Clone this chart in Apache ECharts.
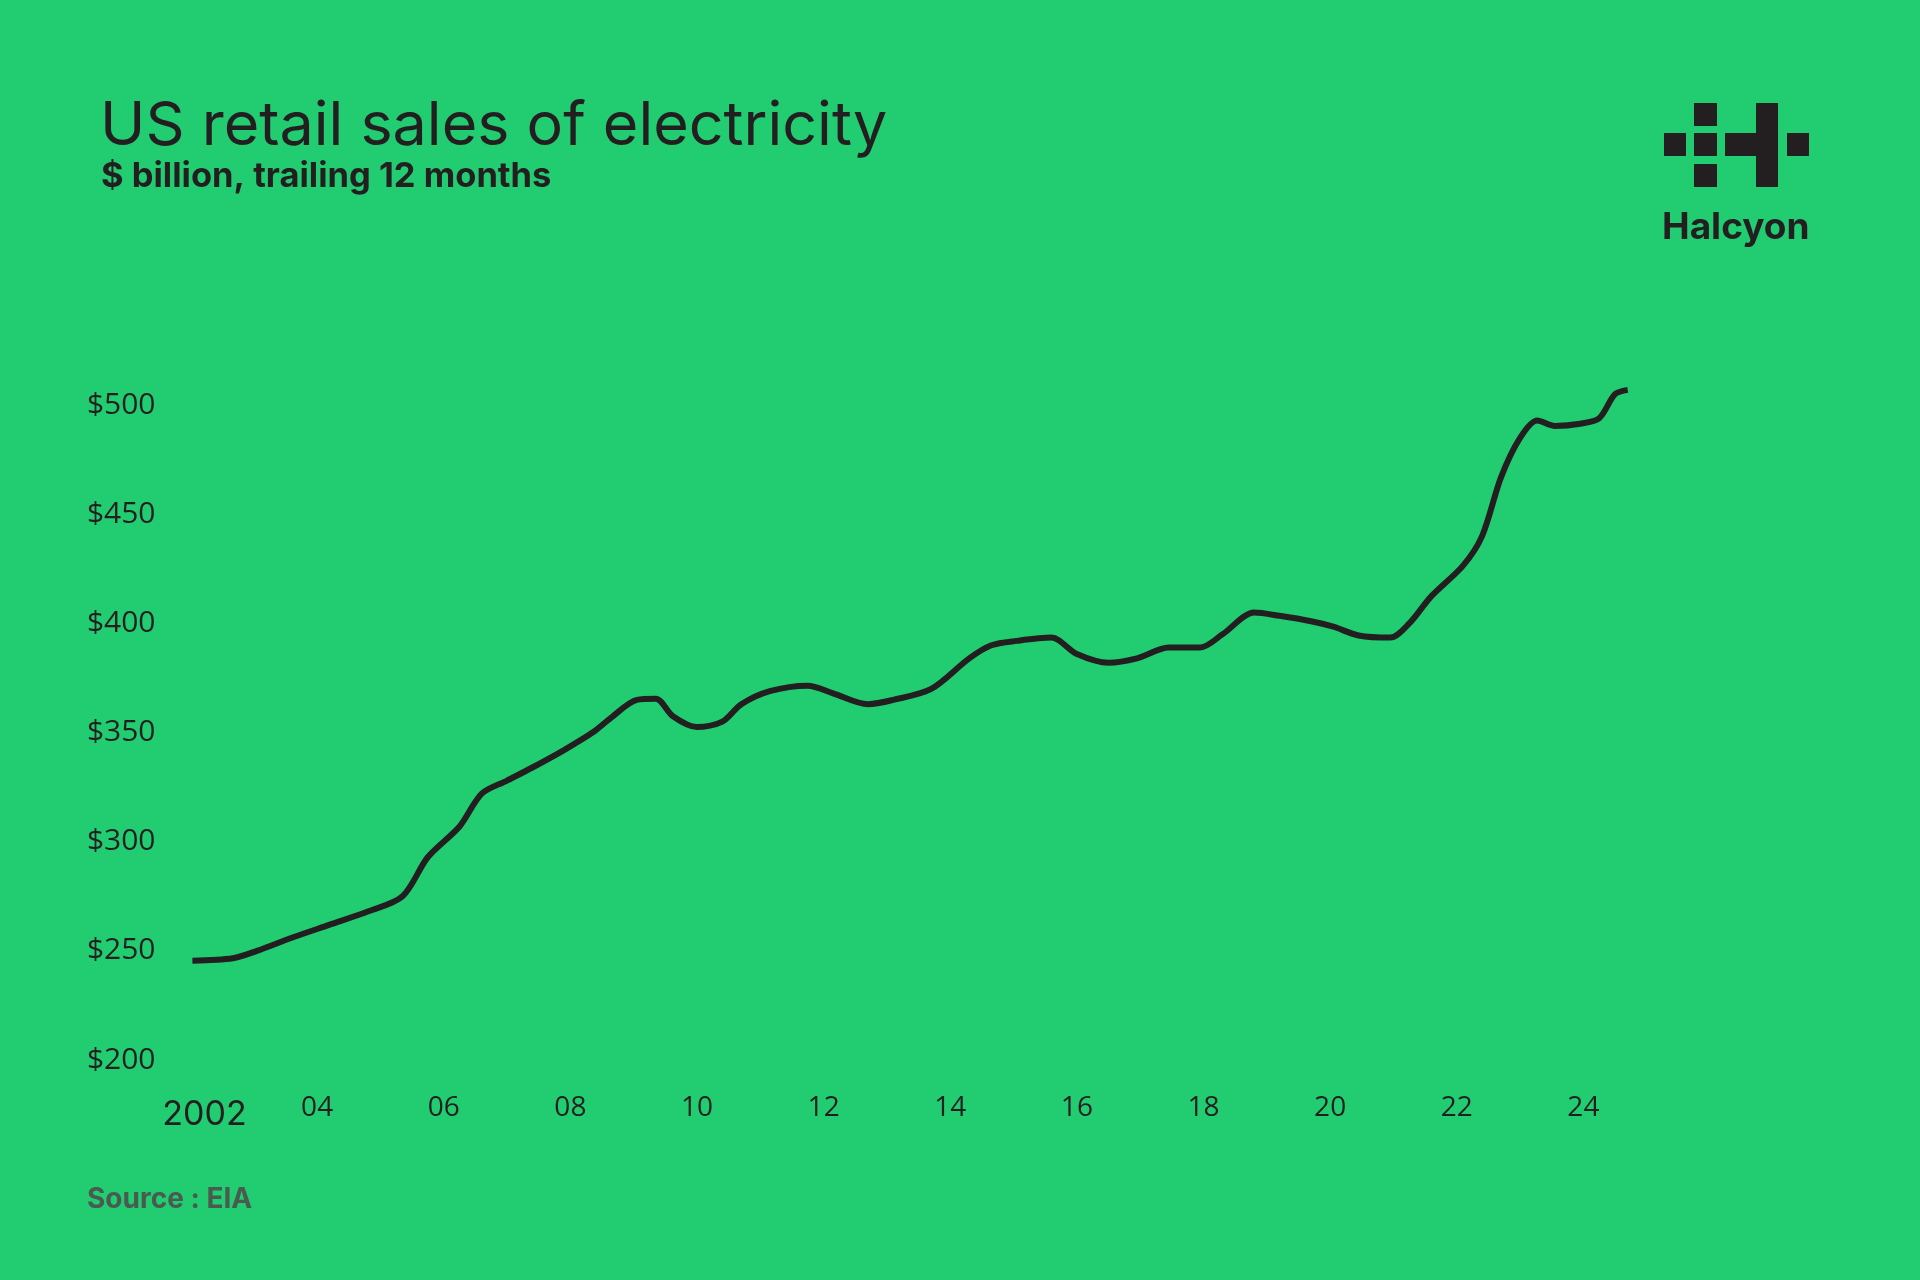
<!DOCTYPE html>
<html>
<head>
<meta charset="utf-8">
<script src="https://cdn.jsdelivr.net/npm/echarts@6/dist/echarts.min.js"></script>
<style>html,body{margin:0;padding:0;background:#22cd72;}#chartmain{width:1920px;height:1280px;}</style>
</head>
<body>
<div id="chartmain"></div>
<script>
// year (decimal) and $ billion, trailing 12 months
var years = [2002.03,2002.67,2003.05,2003.6,2004.2,2004.8,2005.35,2005.75,2006.25,2006.6,2007.0,2007.4,2007.9,2008.35,2008.65,2009.05,2009.35,2009.62,2010.0,2010.4,2010.7,2011.15,2011.75,2012.15,2012.7,2013.1,2013.7,2014.3,2014.65,2015.05,2015.6,2016.0,2016.5,2016.95,2017.45,2017.95,2018.3,2018.8,2019.2,2019.7,2020.05,2020.45,2020.95,2021.25,2021.6,2022.1,2022.4,2022.7,2023.0,2023.27,2023.55,2023.95,2024.25,2024.5,2024.7];
var sales = [245.5,246.6,250,256,262,268,275,293,307,322,328,334,342,350,357,365,365.5,357.5,352.5,355,363,369,371.5,368,363,365,370,384,390,392,393.5,386,382,384,389,389,395,405,403.5,401,398.5,394.5,393.5,400,412.5,426.5,440,467,485,493,490.5,491.5,494,505,507];
var yTicks = [200,250,300,350,400,450,500];

var myChart = echarts.init(document.getElementById('chartmain'));
var ink = '#231f20';
var logo = [
  [1694,103,23,23],[1664,133,22,23],[1694,133,23,23],[1694,164,23,23],
  [1725,133,33,23],[1756,103,22,84],[1787,133,22,23]
].map(function(r){ return {type:'rect', shape:{x:r[0],y:r[1],width:r[2],height:r[3]}, style:{fill:ink}}; });

option = {
    backgroundColor: '#22cd72',
    graphic: logo.concat([
        {type:'text', left:1662, top:209, style:{text:'Halcyon', font:'bold 37px Inter, "Noto Sans", sans-serif', fill:ink}},
        {type:'text', left:100, top:96, style:{text:'US retail sales of electricity', font:'61px Inter, "Noto Sans", sans-serif', fill:ink}},
        {type:'text', left:101, top:159, style:{text:'$ billion, trailing 12 months', font:'bold 34.5px Inter, "Noto Sans", sans-serif', fill:ink}},
        {type:'text', left:87, top:1186, style:{text:'Source : EIA', font:'bold 28px Inter, "Noto Sans", sans-serif', fill:'#4a5a50'}}
    ]),
    grid: {left:190.5, right:210, top:296, bottom:220},
    xAxis: {
        type:'value', min:2002, max:2026, interval:2,
        axisLine:{show:false}, axisTick:{show:false}, splitLine:{show:false},
        axisLabel:{
            margin:34, color:ink, fontFamily:'"Open Sans", sans-serif',
            formatter:function(v){ if(v===2002) return '{big|2002}'; if(v>2024) return ''; return String(v).slice(2); },
            fontSize:28,
            rich:{big:{fontSize:34, color:ink, fontFamily:'Inter, "Noto Sans", sans-serif', padding:[4,0,0,28]}}
        }
    },
    yAxis: {
        type:'value', min:200, max:550, interval:50,
        axisLine:{show:false}, axisTick:{show:false}, splitLine:{show:false},
        axisLabel:{
            margin:35, color:ink, fontSize:30, fontFamily:'"Open Sans", sans-serif',
            formatter:function(v){ return yTicks.indexOf(v) >= 0 ? '$' + v : ''; }
        }
    },
    series: [{
        type:'line', smooth:0.3, symbol:'none',
        lineStyle:{color:ink, width:6},
        data: years.map(function(y,i){ return [y, sales[i]]; })
    }]
};
myChart.setOption(option);
</script>
</body>
</html>
